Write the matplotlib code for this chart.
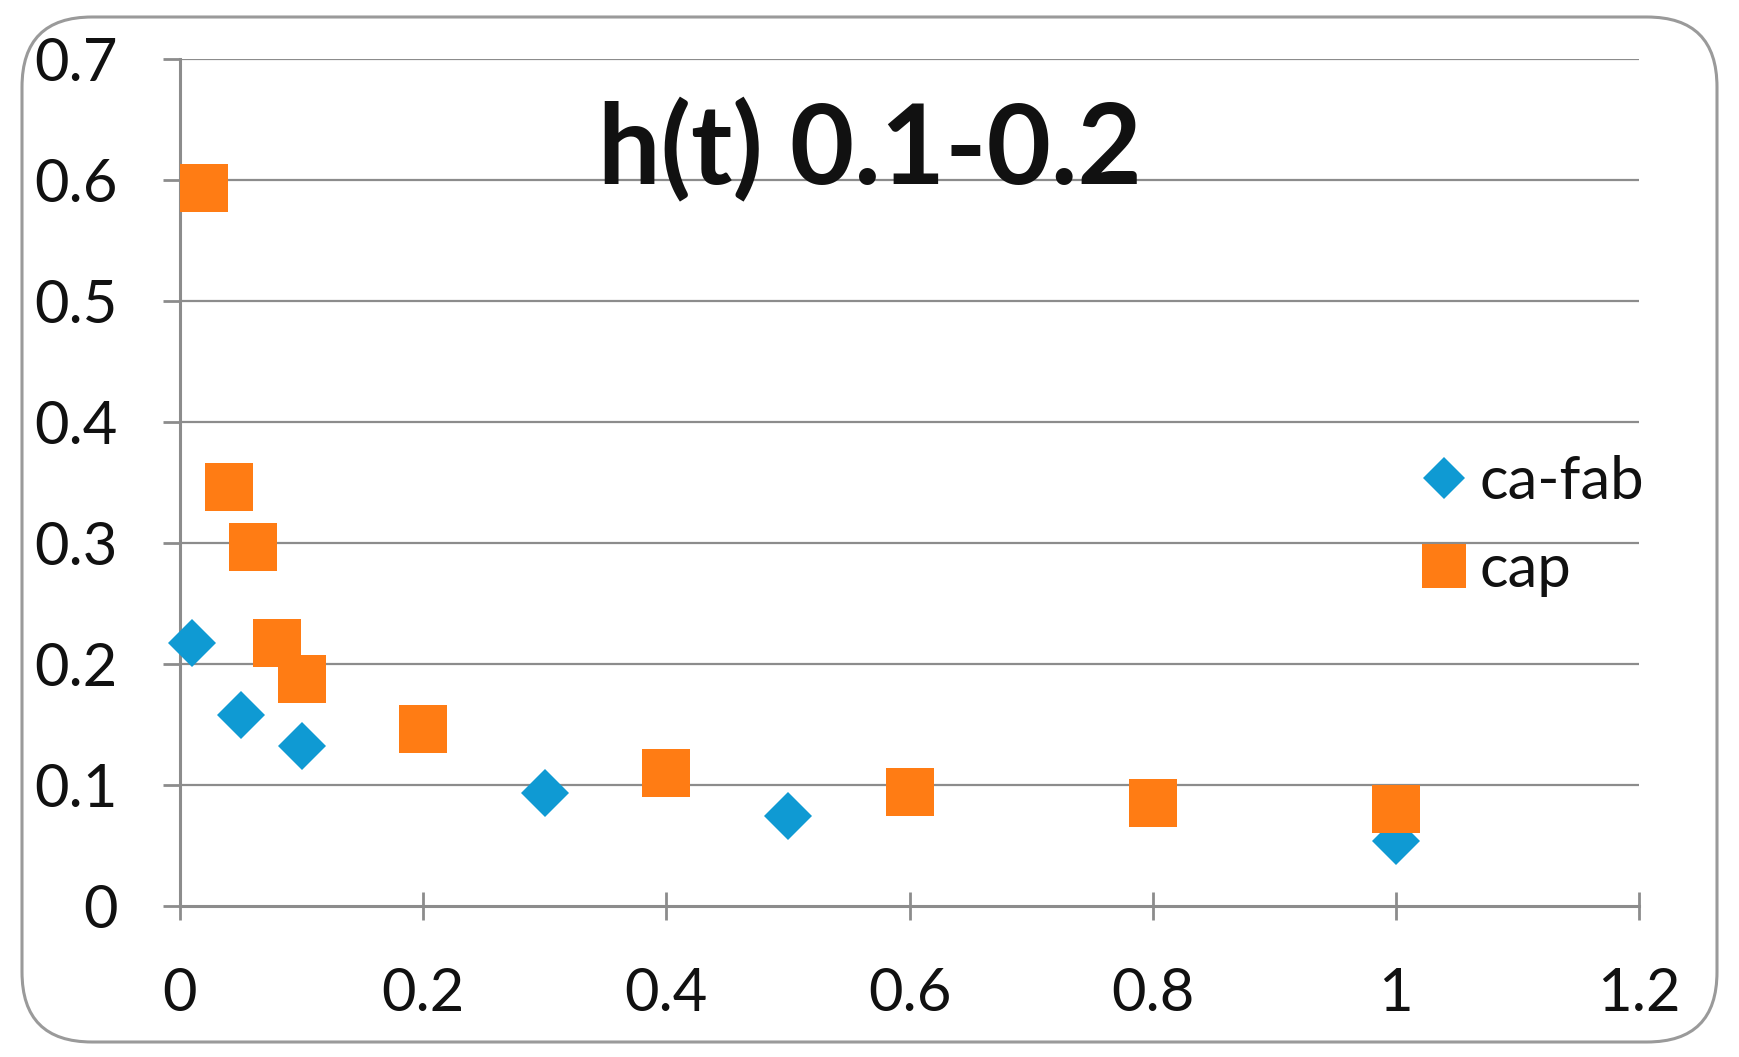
import matplotlib
matplotlib.use("Agg")
import matplotlib.pyplot as plt
from matplotlib.patches import FancyBboxPatch

ca_fab_x = [0.01, 0.05, 0.1, 0.3, 0.5, 1.0]
ca_fab_y = [0.217, 0.158, 0.132, 0.093, 0.074, 0.054]
cap_x = [0.02, 0.04, 0.06, 0.08, 0.1, 0.2, 0.4, 0.6, 0.8, 1.0]
cap_y = [0.593, 0.346, 0.297, 0.217, 0.188, 0.146, 0.110, 0.094, 0.085, 0.080]
x_ticks = [0, 0.2, 0.4, 0.6, 0.8, 1.0, 1.2]
x_labels = ["0", "0.2", "0.4", "0.6", "0.8", "1", "1.2"]
y_ticks = [0, 0.1, 0.2, 0.3, 0.4, 0.5, 0.6, 0.7]
y_labels = ["0", "0.1", "0.2", "0.3", "0.4", "0.5", "0.6", "0.7"]
title = "h(t) 0.1-0.2"

plt.rcParams['font.family'] = ['Lato', 'DejaVu Sans']

W, H = 1739, 1057
fig = plt.figure(figsize=(W / 100, H / 100), dpi=100)
fig.patch.set_facecolor('white')

# rounded outer border
border = FancyBboxPatch((0.22, 0.15), 16.95, 10.25,
                        boxstyle="round,pad=0,rounding_size=0.7",
                        transform=fig.dpi_scale_trans, fill=False,
                        edgecolor='#9a9a9a', linewidth=2.2, zorder=0)
fig.patches.append(border)

ax = fig.add_axes([180 / W, 1 - 906 / H, (1639 - 180) / W, (906 - 59) / H])
ax.set_xlim(0, 1.2)
ax.set_ylim(0, 0.7)
ax.set_facecolor('none')

grey = '#8c8c8c'
for v in y_ticks[1:]:
    ax.axhline(v, color=grey, linewidth=1.6, zorder=1)

for s in ['top', 'right']:
    ax.spines[s].set_visible(False)
for s in ['left', 'bottom']:
    ax.spines[s].set_color(grey)
    ax.spines[s].set_linewidth(2.2)

ax.set_xticks(x_ticks)
ax.set_xticklabels(x_labels)
ax.set_yticks(y_ticks)
ax.set_yticklabels(y_labels)
ax.tick_params(axis='x', direction='inout', length=20, width=2, color=grey,
               pad=34, labelsize=43, labelcolor='#111111')
ax.tick_params(axis='y', direction='out', length=12, width=2, color=grey,
               pad=33, labelsize=43, labelcolor='#111111')

ax.plot(ca_fab_x, ca_fab_y, linestyle='none', marker='D', markersize=24,
        color='#0f9ad3', markeredgewidth=0, label='ca-fab', zorder=3, clip_on=False)
ax.plot(cap_x, cap_y, linestyle='none', marker='s', markersize=35,
        color='#ff7c14', markeredgewidth=0, label='cap', zorder=4, clip_on=False)

fig.text(0.5, 1 - 183 / H, title, ha='center', va='baseline', fontsize=80,
         fontweight='bold', color='#111111')

leg = ax.legend(loc='center left', bbox_to_anchor=(1420 / W, 531 / H),
                bbox_transform=fig.transFigure, frameon=False, fontsize=43,
                handlelength=0.8, handletextpad=0.2, labelspacing=0.56,
                markerscale=0.9, borderpad=0, borderaxespad=0)
for t in leg.get_texts():
    t.set_color('#111111')

fig.savefig('out.png', dpi=100, facecolor='white')
